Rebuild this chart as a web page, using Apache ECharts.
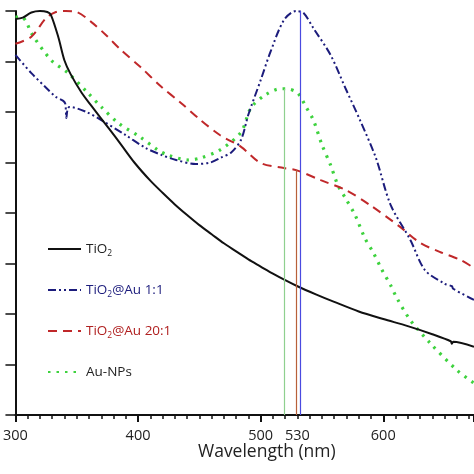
<!DOCTYPE html>
<html><head><meta charset="utf-8">
<script src="https://cdn.jsdelivr.net/npm/echarts@6/dist/echarts.min.js"></script>
<style>html,body{margin:0;padding:0;background:#fff}#c{width:474px;height:474px}</style>
</head><body><div id="c"></div>
<script>
// Wavelength (nm) / absorbance (a.u.)
const seriesNames = ['TiO2', 'TiO2@Au 1:1', 'TiO2@Au 20:1', 'Au-NPs'];
const tio2 = [[300,7.84],[306,7.87],[313,7.97],[320,8.0],[326,7.98],[329,7.92],[335,7.48],[340,7.02],[345,6.75],[354,6.38],[362,6.12],[376,5.68],[386,5.36],[397,5.0],[410,4.64],[420,4.4],[430,4.17],[440,3.96],[450,3.76],[460,3.58],[470,3.4],[480,3.24],[490,3.08],[500,2.94],[510,2.8],[520,2.67],[530,2.55],[545,2.39],[560,2.24],[580,2.05],[600,1.9],[620,1.76],[640,1.6],[655,1.46],[656,1.41],[657,1.45],[674,1.35]];
const au11 = [[300,7.13],[313,6.77],[325,6.48],[333,6.3],[339,6.22],[340.7,6.16],[341.5,5.88],[342.5,6.05],[344,6.1],[358,6.0],[370,5.84],[390,5.54],[406,5.29],[419,5.15],[431,5.05],[447,4.97],[459,5.0],[468,5.1],[476,5.2],[484,5.45],[490,5.95],[500,6.63],[508,7.19],[519,7.82],[529,8.0],[535,7.96],[543,7.66],[557,7.13],[569,6.48],[581,5.84],[594,5.09],[606,4.16],[622,3.47],[634,2.87],[650,2.6],[656,2.55],[657,2.5],[674,2.28]];
const au201 = [[300,7.35],[313,7.49],[325,7.86],[333,7.98],[341,8.0],[350,7.98],[362,7.78],[374,7.52],[386,7.23],[402,6.89],[419,6.5],[435,6.18],[451,5.84],[467,5.54],[484,5.31],[500,4.99],[519,4.89],[529,4.85],[549,4.65],[569,4.46],[589,4.16],[614,3.72],[630,3.41],[646,3.23],[663,3.07],[674,2.91]];
const auNPs = [[300,7.88],[305,7.88],[309,7.78],[313,7.56],[329,7.03],[343,6.77],[359,6.38],[370,6.1],[384,5.78],[402,5.5],[416,5.25],[424,5.15],[441,5.05],[451,5.09],[467,5.25],[484,5.6],[492,6.08],[504,6.34],[516,6.46],[521,6.46],[530,6.38],[537,6.1],[543,5.84],[550,5.35],[557,4.95],[563,4.55],[569,4.3],[577,3.96],[585,3.5],[592,3.21],[599,2.87],[606,2.57],[611,2.32],[622,1.88],[638,1.43],[660,0.89],[674,0.63]];
// peak markers: [wavelength, absorbance at top of line]
const peakAu11 = [532, 8.0];
const peak201 = [529, 4.85];
const peakAuNPs = [519, 6.46];
const xLabels = [300, 400, 500, 530, 600];

const colors = ['#111111', '#1c1c7c', '#c0282a', '#3ed23e'];
const textColors = ['#222222', '#1c1c7c', '#b02020', '#222222'];
const FONT = 'Open Sans';

function vline(p, color) {
  return {
    silent: true, symbol: 'none', animation: false, label: {show: false},
    lineStyle: {type: 'solid', width: 1.2, color: color},
    data: [[{coord: [p[0], p[1]]}, {coord: [p[0], 0]}]]
  };
}

const chart = echarts.init(document.getElementById('c'), null, {renderer: 'canvas'});
const rich = {};
textColors.forEach((c, i) => {
  rich['n' + i] = {fontFamily: FONT, fontSize: 13.5, color: c};
  rich['s' + i] = {fontFamily: FONT, fontSize: 8.5, color: c, padding: [9, 0, 0, 0]};
});
const common = {type: 'line', showSymbol: false, symbol: 'none', smooth: 0.3};
chart.setOption({
  animation: false,
  backgroundColor: '#fff',
  grid: {left: 14, right: 0, top: 11, bottom: 59, containLabel: false},
  xAxis: {
    type: 'value', min: 300, max: 674, interval: 100,
    axisLine: {show: true, onZero: false, lineStyle: {color: '#111', width: 2}},
    axisTick: {show: true, length: 7, lineStyle: {color: '#111', width: 2}},
    minorTick: {show: true, splitNumber: 10, length: 4, lineStyle: {color: '#111', width: 1.5}},
    splitLine: {show: false},
    axisLabel: {customValues: xLabels, fontFamily: FONT, fontSize: 14.5, color: '#222', margin: 13,
      formatter: v => String(v)}
  },
  yAxis: {
    type: 'value', min: 0, max: 8, interval: 1,
    axisLine: {show: true, lineStyle: {color: '#111', width: 2}},
    axisTick: {show: true, length: 10, lineStyle: {color: '#111', width: 1.5}},
    axisLabel: {show: false},
    splitLine: {show: false}
  },
  legend: {
    orient: 'vertical', left: 47, top: 242, padding: 0, itemWidth: 33, itemHeight: 14, itemGap: 25,
    itemStyle: {opacity: 0, color: 'transparent', borderWidth: 0},
    data: seriesNames.map(n => ({name: n})),
    textStyle: {fontFamily: FONT, fontSize: 13.5, rich: rich},
    formatter: function (name) {
      const i = seriesNames.indexOf(name);
      if (name.indexOf('TiO2') === 0) {
        const rest = name.slice(4);
        return '{n' + i + '|TiO}{s' + i + '|2}' + (rest ? '{n' + i + '|' + rest + '}' : '');
      }
      return '{n' + i + '|' + name + '}';
    }
  },
  graphic: [{
    type: 'text', left: 198, top: 443,
    style: {text: 'Wavelength (nm)', fontFamily: FONT, fontSize: 17.5, fill: '#222'}
  }],
  series: [
    Object.assign({name: seriesNames[0], data: tio2, z: 4,
      lineStyle: {color: colors[0], width: 2, type: 'solid'}, itemStyle: {color: colors[0]}}, common),
    Object.assign({name: seriesNames[1], data: au11, z: 3,
      lineStyle: {color: colors[1], width: 2, type: [8, 3, 2, 3, 2, 3]}, itemStyle: {color: colors[1]},
      markLine: vline(peakAu11, '#4a4ae0')}, common),
    Object.assign({name: seriesNames[2], data: au201, z: 2,
      lineStyle: {color: colors[2], width: 2, type: [9, 6]}, itemStyle: {color: colors[2]},
      markLine: vline(peak201, '#b8603a')}, common),
    Object.assign({name: seriesNames[3], data: auNPs, z: 1,
      lineStyle: {color: colors[3], width: 3.2, type: [2.5, 6]}, itemStyle: {color: colors[3]},
      markLine: vline(peakAuNPs, '#8fd08f')}, common)
  ]
});
</script></body></html>
